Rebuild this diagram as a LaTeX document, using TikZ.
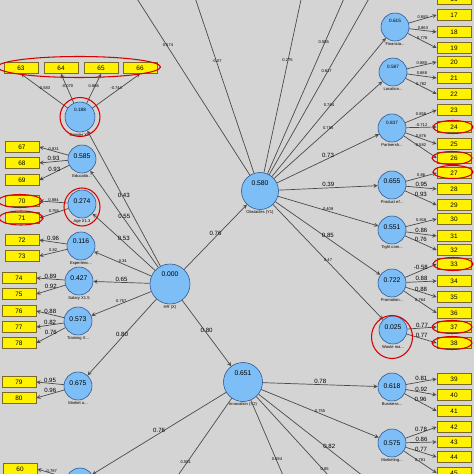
\documentclass[tikz,border=0pt]{standalone}
\usepackage{fontspec}
\setmainfont{Liberation Sans}
\usepackage{tikz}
\usetikzlibrary{shapes.geometric, arrows}
\definecolor{bggray}{RGB}{212,212,212}
\definecolor{lvfill}{RGB}{126,190,246}
\definecolor{lvedge}{RGB}{45,85,145}
\definecolor{mvedge}{RGB}{125,105,35}
\definecolor{linkgray}{RGB}{75,75,75}
\definecolor{markred}{RGB}{215,0,0}
\tikzstyle{latent} = [circle, minimum size=8.4mm, inner sep=0pt, draw=lvedge, line width=0.5pt, fill=lvfill, font=\fontsize{5.8}{6}\selectfont]
\tikzstyle{smallvar} = [latent, font=\fontsize{4}{5}\selectfont]
\tikzstyle{indicator} = [rectangle, minimum width=10.2mm, minimum height=3.3mm, inner sep=0pt, draw=mvedge, line width=0.6pt, fill=yellow, font=\fontsize{5.5}{6}\selectfont]
\tikzstyle{link} = [draw=linkgray, line width=0.6pt, ->, >=stealth]
\tikzstyle{coef} = [midway, above, inner sep=0.5pt, font=\fontsize{3.5}{4}\selectfont]
\tikzstyle{bigcoef} = [coef, font=\fontsize{5.2}{6}\selectfont]
\tikzstyle{lvname} = [inner sep=0.6pt, font=\fontsize{3.5}{4}\selectfont]
\tikzstyle{redmark} = [ellipse, draw=markred, line width=0.9pt, inner sep=0pt]

\begin{document}
\begin{tikzpicture}[x=0.3mm, y=-0.3mm]
\useasboundingbox (0,0) rectangle (474,474);
\clip (0,0) rectangle (474,474);
\fill [bggray] (0,0) rectangle (474,474);

% structural part
\node (hr) [latent, minimum size=12mm, label={[lvname]below:HR (X)}] at (170,284) {\raisebox{6mm}{0.000}};
\node (obst) [latent, minimum size=11.1mm, label={[lvname]below:Obstacles (Y1)}] at (260,191) {\raisebox{4.8mm}{0.580}};
\node (innov) [latent, minimum size=11.7mm, label={[lvname]below:Innovation (Y2)}] at (243,382) {\raisebox{5.4mm}{0.651}};

% left dimensions
\node (gender) [smallvar, minimum size=9mm, label={[lvname]below:Gender X...}] at (80,117) {\raisebox{4.2mm}{0.188}};
\node (edu) [latent, label={[lvname]below:Educatio...}] at (82,159) {\raisebox{1.8mm}{0.585}};
\node (age) [latent, label={[lvname]below:Age X1.3}] at (82,204) {\raisebox{1.8mm}{0.274}};
\node (exp) [latent, label={[lvname]below:Experienc...}] at (81,246) {\raisebox{3mm}{0.116}};
\node (sal) [latent, label={[lvname]below:Salary X1.5}] at (79,281) {\raisebox{1.8mm}{0.427}};
\node (train) [latent, label={[lvname]below:Training X...}] at (78,321) {\raisebox{1.2mm}{0.573}};
\node (market) [latent, label={[lvname]below:Market a...}] at (78,386) {\raisebox{1.8mm}{0.675}};
\node (lvsixty) [latent] at (80,482) {};

% right dimensions
\node (fin) [smallvar, label={[lvname]below:Financia...}] at (395,27) {\raisebox{3.6mm}{0.615}};
\node (loc) [smallvar, label={[lvname]below:Location...}] at (393,72) {\raisebox{3mm}{0.587}};
\node (part) [smallvar, label={[lvname]below:Partnersh...}] at (392,128) {\raisebox{3mm}{0.837}};
\node (prod) [latent, label={[lvname]below:Product ef...}] at (392,185) {\raisebox{2.4mm}{0.655}};
\node (tight) [latent, label={[lvname]below:Tight com...}] at (392,230) {\raisebox{1.8mm}{0.551}};
\node (promo) [latent, label={[lvname]below:Promotion...}] at (392,283) {\raisebox{1.8mm}{0.722}};
\node (waste) [latent, label={[lvname]below:Waste ma...}] at (393,330) {\raisebox{1.8mm}{0.025}};
\node (bus) [latent, label={[lvname]below:Business...}] at (392,387) {\raisebox{0.6mm}{0.618}};
\node (mkt) [latent, label={[lvname]below:Marketing...}] at (392,443) {0.575};

% indicators, top row and left column
\node (b63) [indicator] at (21,68) {63};
\node (b64) [indicator] at (61,68) {64};
\node (b65) [indicator] at (101,68) {65};
\node (b66) [indicator] at (140,68) {66};
\node (b67) [indicator] at (22,147) {67};
\node (b68) [indicator] at (22,163) {68};
\node (b69) [indicator] at (22,180) {69};
\node (b70) [indicator] at (22,201) {70};
\node (b71) [indicator] at (22,218) {71};
\node (b72) [indicator] at (22,240) {72};
\node (b73) [indicator] at (22,256) {73};
\node (b74) [indicator] at (19,278) {74};
\node (b75) [indicator] at (19,294) {75};
\node (b76) [indicator] at (19,311) {76};
\node (b77) [indicator] at (19,327) {77};
\node (b78) [indicator] at (19,343) {78};
\node (b79) [indicator] at (19,382) {79};
\node (b80) [indicator] at (19,398) {80};
\node (b60) [indicator] at (20,469) {60};

% indicators, right column
\node (b16) [indicator] at (454,-1) {16};
\node (b17) [indicator] at (454,15) {17};
\node (b18) [indicator] at (454,32) {18};
\node (b19) [indicator] at (454,48) {19};
\node (b20) [indicator] at (454,62) {20};
\node (b21) [indicator] at (454,78) {21};
\node (b22) [indicator] at (454,94) {22};
\node (b23) [indicator] at (454,110) {23};
\node (b24) [indicator] at (454,127) {24};
\node (b25) [indicator] at (454,144) {25};
\node (b26) [indicator] at (454,158) {26};
\node (b27) [indicator] at (454,173) {27};
\node (b28) [indicator] at (454,189) {28};
\node (b29) [indicator] at (454,205) {29};
\node (b30) [indicator] at (454,219) {30};
\node (b31) [indicator] at (454,236) {31};
\node (b32) [indicator] at (454,250) {32};
\node (b33) [indicator] at (454,264) {33};
\node (b34) [indicator] at (454,281) {34};
\node (b35) [indicator] at (454,297) {35};
\node (b36) [indicator] at (454,313) {36};
\node (b37) [indicator] at (454,327) {37};
\node (b38) [indicator] at (454,343) {38};
\node (b39) [indicator] at (454,379) {39};
\node (b40) [indicator] at (454,395) {40};
\node (b41) [indicator] at (454,411) {41};
\node (b42) [indicator] at (454,427) {42};
\node (b43) [indicator] at (454,442) {43};
\node (b44) [indicator] at (454,457) {44};
\node (b45) [indicator] at (454,473) {45};

% ends of paths leaving the picture
\coordinate (upA) at (86,-81);
\coordinate (upB) at (180,-47);
\coordinate (upC) at (311,-47);
\coordinate (upD) at (380,-84);
\coordinate (upE) at (384,-28);
\coordinate (downA) at (400,505);
\coordinate (downB) at (393,546);
\coordinate (downC) at (303,522);
\coordinate (downD) at (140,530);

% paths
\draw [link] (hr) -- (obst) node [bigcoef] {0.76};
\draw [link] (hr) -- (innov) node [bigcoef] {0.80};
\draw [link] (hr) -- (gender) node [bigcoef] {0.43};
\draw [link] (hr) -- (edu) node [bigcoef] {0.55};
\draw [link] (hr) -- (age) node [bigcoef] {0.53};
\draw [link] (hr) -- (exp) node [coef] {0.34};
\draw [link] (hr) -- (sal) node [bigcoef] {0.65};
\draw [link] (hr) -- (train) node [coef] {0.757};
\draw [link] (hr) -- (market) node [bigcoef] {0.80};

\draw [link] (obst) -- (upA) node [coef] {0.574};
\draw [link] (obst) -- (upB) node [coef] {-0.07};
\draw [link] (obst) -- (upC) node [coef] {0.275};
\draw [link] (obst) -- (upD) node [coef] {0.555};
\draw [link] (obst) -- (upE) node [coef] {0.817};
\draw [link] (obst) -- (fin) node [coef] {0.784};
\draw [link] (obst) -- (loc) node [coef] {0.755};
\draw [link] (obst) -- (part) node [bigcoef] {0.73};
\draw [link] (obst) -- (prod) node [bigcoef] {0.39};
\draw [link] (obst) -- (tight) node [coef] {0.408};
\draw [link] (obst) -- (promo) node [bigcoef] {0.85};
\draw [link] (obst) -- (waste) node [coef] {0.47};

\draw [link] (innov) -- (bus) node [bigcoef] {0.78};
\draw [link] (innov) -- (mkt) node [coef] {0.755};
\draw [link] (innov) -- (downA) node [bigcoef] {0.82};
\draw [link] (innov) -- (downB) node [coef] {0.85};
\draw [link] (innov) -- (downC) node [coef] {0.594};
\draw [link] (innov) -- (downD) node [coef] {0.551};
\draw [link] (innov) -- (lvsixty) node [bigcoef] {0.76};

% loadings, left
\draw [link] (gender) -- (b63.south) node [coef] {-0.583};
\draw [link] (gender) -- (b64.south) node [coef] {-0.070};
\draw [link] (gender) -- (b65.south) node [coef] {0.866};
\draw [link] (gender) -- (b66.south) node [coef] {-0.744};
\draw [link] (edu) -- (b67.east) node [coef] {0.831};
\draw [link] (edu) -- (b68.east) node [bigcoef] {0.93};
\draw [link] (edu) -- (b69.east) node [bigcoef] {0.93};
\draw [link] (age) -- (b70.east) node [coef] {0.884};
\draw [link] (age) -- (b71.east) node [coef] {0.755};
\draw [link] (exp) -- (b72.east) node [bigcoef] {0.96};
\draw [link] (exp) -- (b73.east) node [coef] {0.82};
\draw [link] (sal) -- (b74.east) node [bigcoef] {0.89};
\draw [link] (sal) -- (b75.east) node [bigcoef] {0.92};
\draw [link] (train) -- (b76.east) node [bigcoef] {0.88};
\draw [link] (train) -- (b77.east) node [bigcoef] {0.82};
\draw [link] (train) -- (b78.east) node [bigcoef] {0.76};
\draw [link] (market) -- (b79.east) node [bigcoef] {0.95};
\draw [link] (market) -- (b80.east) node [bigcoef] {0.96};
\draw [link] (lvsixty) -- (b60.east) node [coef] {0.787};

% loadings, right
\draw [link] (fin) -- (b17.west) node [coef] {0.883};
\draw [link] (fin) -- (b18.west) node [coef] {0.863};
\draw [link] (fin) -- (b19.west) node [coef] {0.776};
\draw [link] (loc) -- (b20.west) node [coef] {0.889};
\draw [link] (loc) -- (b21.west) node [coef] {0.888};
\draw [link] (loc) -- (b22.west) node [coef] {0.782};
\draw [link] (part) -- (b23.west) node [coef] {0.858};
\draw [link] (part) -- (b24.west) node [coef] {-0.712};
\draw [link] (part) -- (b25.west) node [coef] {0.876};
\draw [link] (part) -- (b26.west) node [coef] {-0.582};
\draw [link] (prod) -- (b27.west) node [coef] {0.86};
\draw [link] (prod) -- (b28.west) node [bigcoef] {0.95};
\draw [link] (prod) -- (b29.west) node [bigcoef] {0.93};
\draw [link] (tight) -- (b30.west) node [coef] {0.818};
\draw [link] (tight) -- (b31.west) node [bigcoef] {0.86};
\draw [link] (tight) -- (b32.west) node [bigcoef] {0.76};
\draw [link] (promo) -- (b33.west) node [bigcoef] {-0.58};
\draw [link] (promo) -- (b34.west) node [bigcoef] {0.88};
\draw [link] (promo) -- (b35.west) node [bigcoef] {0.88};
\draw [link] (promo) -- (b36.west) node [coef] {0.764};
\draw [link] (waste) -- (b37.west) node [bigcoef] {0.77};
\draw [link] (waste) -- (b38.west) node [bigcoef] {0.77};
\draw [link] (bus) -- (b39.west) node [bigcoef] {0.81};
\draw [link] (bus) -- (b40.west) node [bigcoef] {0.92};
\draw [link] (bus) -- (b41.west) node [bigcoef] {0.96};
\draw [link] (mkt) -- (b42.west) node [bigcoef] {0.78};
\draw [link] (mkt) -- (b43.west) node [bigcoef] {0.86};
\draw [link] (mkt) -- (b44.west) node [bigcoef] {0.77};
\draw [link] (mkt) -- (b45.west) node [coef] {0.781};

% red highlights
\node (hlTop) [redmark, minimum width=48.9mm, minimum height=6.3mm] at (79,67) {};
\node (hlGender) [redmark, minimum width=12mm, minimum height=11.7mm] at (gender) {};
\node (hlAge) [redmark, minimum width=10.8mm, minimum height=11.4mm] at (82,207) {};
\node (hl70) [redmark, minimum width=13.2mm, minimum height=3.9mm] at (20,201) {};
\node (hl71) [redmark, minimum width=13.2mm, minimum height=4.2mm] at (21,218) {};
\node (hl24) [redmark, minimum width=12mm, minimum height=3.9mm] at (453,127) {};
\node (hl26) [redmark, minimum width=12mm, minimum height=3.9mm] at (452,158) {};
\node (hl27) [redmark, minimum width=12mm, minimum height=3.9mm] at (453,172) {};
\node (hl33) [redmark, minimum width=12mm, minimum height=3.9mm] at (453,264) {};
\node (hl37) [redmark, minimum width=12mm, minimum height=3.9mm] at (452,327) {};
\node (hl38) [redmark, minimum width=12mm, minimum height=3.9mm] at (452,343) {};
\node (hlWaste) [redmark, minimum width=12.3mm, minimum height=12.9mm] at (392,337) {};

\end{tikzpicture}
\end{document}
